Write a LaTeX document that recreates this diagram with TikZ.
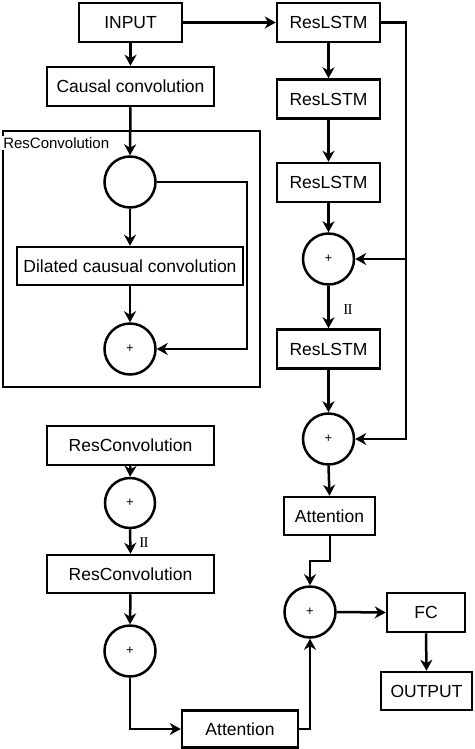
\documentclass[tikz,border=0pt]{standalone}
\usepackage{fontspec}
\setmainfont{Liberation Sans}
\newfontfamily\serifii{Liberation Serif}
\usetikzlibrary{arrows.meta}
\begin{document}
\begin{tikzpicture}[x=1pt,y=-1pt,
  line width=2.5pt,
  box/.style={draw,rectangle,inner sep=0pt,font=\fontsize{17.5}{20}\selectfont},
  sumc/.style={draw,circle,minimum size=51pt,inner sep=0pt,font=\fontsize{13}{15}\selectfont},
  arr/.style={-{Stealth[length=11pt,width=12pt,inset=3.5pt]}},
  ii/.style={font=\serifii\fontsize{15}{17}\selectfont,inner sep=0pt}
]
\useasboundingbox (0,0) rectangle (474,749);
% outer ResConvolution box
\draw (3,131) rectangle (260,387);
\node[anchor=west,fill=white,inner sep=1pt,font=\fontsize{15}{17}\selectfont] (rclabel) at (1,143) {ResConvolution};
% boxes
\node[box,minimum width=103pt,minimum height=39pt] (in) at (130.5,22.5) {INPUT};
\node[box,minimum width=103pt,minimum height=39pt] (L1) at (328.5,22.5) {ResLSTM};
\node[box,minimum width=103pt,minimum height=39pt] (L2) at (328.5,99) {ResLSTM};
\node[box,minimum width=103pt,minimum height=39pt] (L3) at (328.5,182.5) {ResLSTM};
\node[box,minimum width=103pt,minimum height=39pt] (L4) at (328.5,349) {ResLSTM};
\node[box,minimum width=167pt,minimum height=39pt] (cc) at (130.5,86.5) {Causal convolution};
\node[box,minimum width=226pt,minimum height=38pt] (dc) at (130,266) {Dilated causual convolution};
\node[sumc] (c1) at (130,182) {};
\node[sumc] (cp1) at (130,349) {+};
\node[sumc] (r1) at (328.5,259) {+};
\node[sumc] (r2) at (328.5,439) {+};
\node[box,minimum width=91pt,minimum height=38pt] (A1) at (329.5,516) {Attention};
\node[sumc] (p3) at (310,612) {+};
\node[box,minimum width=78pt,minimum height=39pt] (fc) at (426,612.5) {FC};
\node[box,minimum width=91pt,minimum height=38pt] (out) at (426.5,691) {OUTPUT};
\node[box,minimum width=167pt,minimum height=39pt] (rc1) at (130.5,445.5) {ResConvolution};
\node[sumc,minimum size=50pt] (lp1) at (130,503) {+};
\node[box,minimum width=167pt,minimum height=38pt] (rc2) at (130.5,574) {ResConvolution};
\node[sumc] (lp2) at (130,651) {+};
\node[box,minimum width=116pt,minimum height=37pt] (A2) at (240,729) {Attention};
% labels
\node[ii] (ii1) at (348,310) {I\kern-0.7ptI};
\node[ii] (ii2) at (144,543) {I\kern-0.7ptI};
% coordinates
\coordinate (fbtop) at (406,22.5);
\coordinate (fbmid) at (406,259);
\coordinate (skip) at (247,182);
\coordinate (bend) at (330,561);
% connectors
\draw[arr] (in.east) -- (L1.west);
\draw[arr] (L1.east) -- (fbtop) |- (r2.east);
\draw[arr] (fbmid) -- (r1.east);
\draw[arr] (in.south) -- (cc.north);
\draw[arr] (cc.south) -- (c1.north);
\draw[arr] (c1.south) -- (dc.north);
\draw[arr] (dc.south) -- (cp1.north);
\draw[arr] (c1.east) -- (skip) |- (cp1.east);
\draw[arr] (L1.south) -- (L2.north);
\draw[arr] (L2.south) -- (L3.north);
\draw[arr] (L3.south) -- (r1.north);
\draw[arr] (r1.south) -- (L4.north);
\draw[arr] (L4.south) -- (r2.north);
\draw[arr] (r2.south) -- (A1.north);
\draw[arr] (A1.south -| bend) -- (bend) -| (p3.north);
\draw[arr] (p3.east) -- (fc.west);
\draw[arr] (fc.south) -- (out.north);
\draw[arr] (rc1.south) -- (lp1.north);
\draw[arr] (lp1.south) -- (rc2.north);
\draw[arr] (rc2.south) -- (lp2.north);
\draw[arr] (lp2.south) |- (A2.west);
\draw[arr] (A2.east) -| (p3.south);
\end{tikzpicture}
\end{document}
